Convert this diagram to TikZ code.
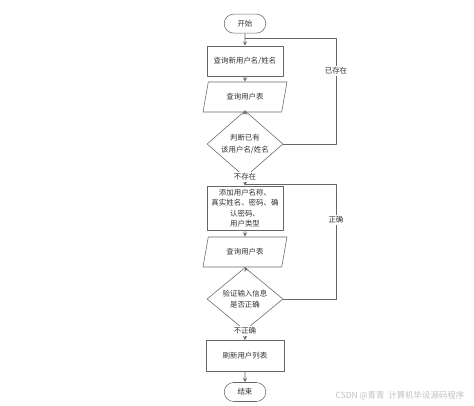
\documentclass[tikz,border=0pt]{standalone}
\usepackage{fontspec}
\newfontfamily\cjk{Noto Sans CJK SC}
\usetikzlibrary{shapes.geometric,shapes.misc,calc}

\begin{document}
\begin{tikzpicture}[line join=round, line cap=round, >=stealth,
	every node/.style={font=\cjk\fontsize{5.3}{8}\selectfont, text=black!80},
	proc/.style={draw=black!60, rectangle, minimum width=1.9cm, minimum height=0.75cm, inner sep=1pt, align=center},
	term/.style={draw=black!60, rounded rectangle, minimum width=1.275cm, minimum height=0.475cm},
	io/.style={draw=black!60, trapezium, trapezium left angle=72, trapezium right angle=108, trapezium stretches body, minimum width=2.1cm, minimum height=0.75cm},
	decide/.style={draw=black!60, diamond, minimum width=1.9cm, minimum height=1.35cm, inner sep=0pt, align=center},
	tag/.style={fill=white, inner sep=1pt}]

			\useasboundingbox (0,0) rectangle (11.85,10.15);

			\node[term] (start) at (6.125,9.56) {开始};

			\node[proc] (query) at (6.125,8.625) {查询新用户名/姓名};

			\node[io] (table1) at (6.125,7.725) {查询用户表};

			\node[decide] (exists) at (6.125,6.55) {判断已有\\该用户名/姓名};

			\node[proc, minimum height=1.1cm, inner sep=0pt, font=\cjk\fontsize{5.3}{7.4}\selectfont] (add) at (6.125,4.95) {添加用户名称、\\真实姓名、密码、确\\认密码、\\用户类型};

			\node[io] (table2) at (6.125,3.85) {查询用户表};

			\node[decide, minimum height=1.225cm] (check) at (6.125,2.675) {验证输入信息\\是否正确};

			\node[proc, minimum width=1.95cm, minimum height=0.775cm] (refresh) at (6.125,1.25) {刷新用户列表};

			\node[term] (end) at (6.125,0.35) {结束};

			\coordinate (j1) at (6.125,9.2);

			\coordinate (j2) at (6.125,5.55);

			\coordinate (r1) at (8.4,9.2);

			\coordinate (r2) at (8.4,5.55);

			\draw[black!60, ->] (start) -- (query);

			\draw[black!60, ->] (query) -- (table1);

			\draw[black!60, ->] (table1) -- (exists);

			\draw[black!60, ->] (exists) -- (add);

			\draw[black!60, ->] (add) -- (table2);

			\draw[black!60, ->] (table2) -- (check);

			\draw[black!60, ->] (check) -- (refresh);

			\draw[black!60, ->] (refresh) -- (end);

			\draw[black!60] (exists.east) -| (r1) -- (j1);

			\draw[black!60] (check.east) -| (r2) -- (j2);

			\node[tag] (existlbl) at (8.4,8.375) {已存在};

			\node[tag] (newlbl) at (6.125,5.73) {不存在};

			\node[tag] (oklbl) at (8.4,4.65) {正确};

			\node[tag] (badlbl) at (6.125,1.875) {不正确};

			\node[text=black!25, font=\cjk\fontsize{6}{7}\selectfont] (mark) at (10.0,0.27) {CSDN @青青\ \ 计算机毕设源码程序};

	\end{tikzpicture}
\end{document}
